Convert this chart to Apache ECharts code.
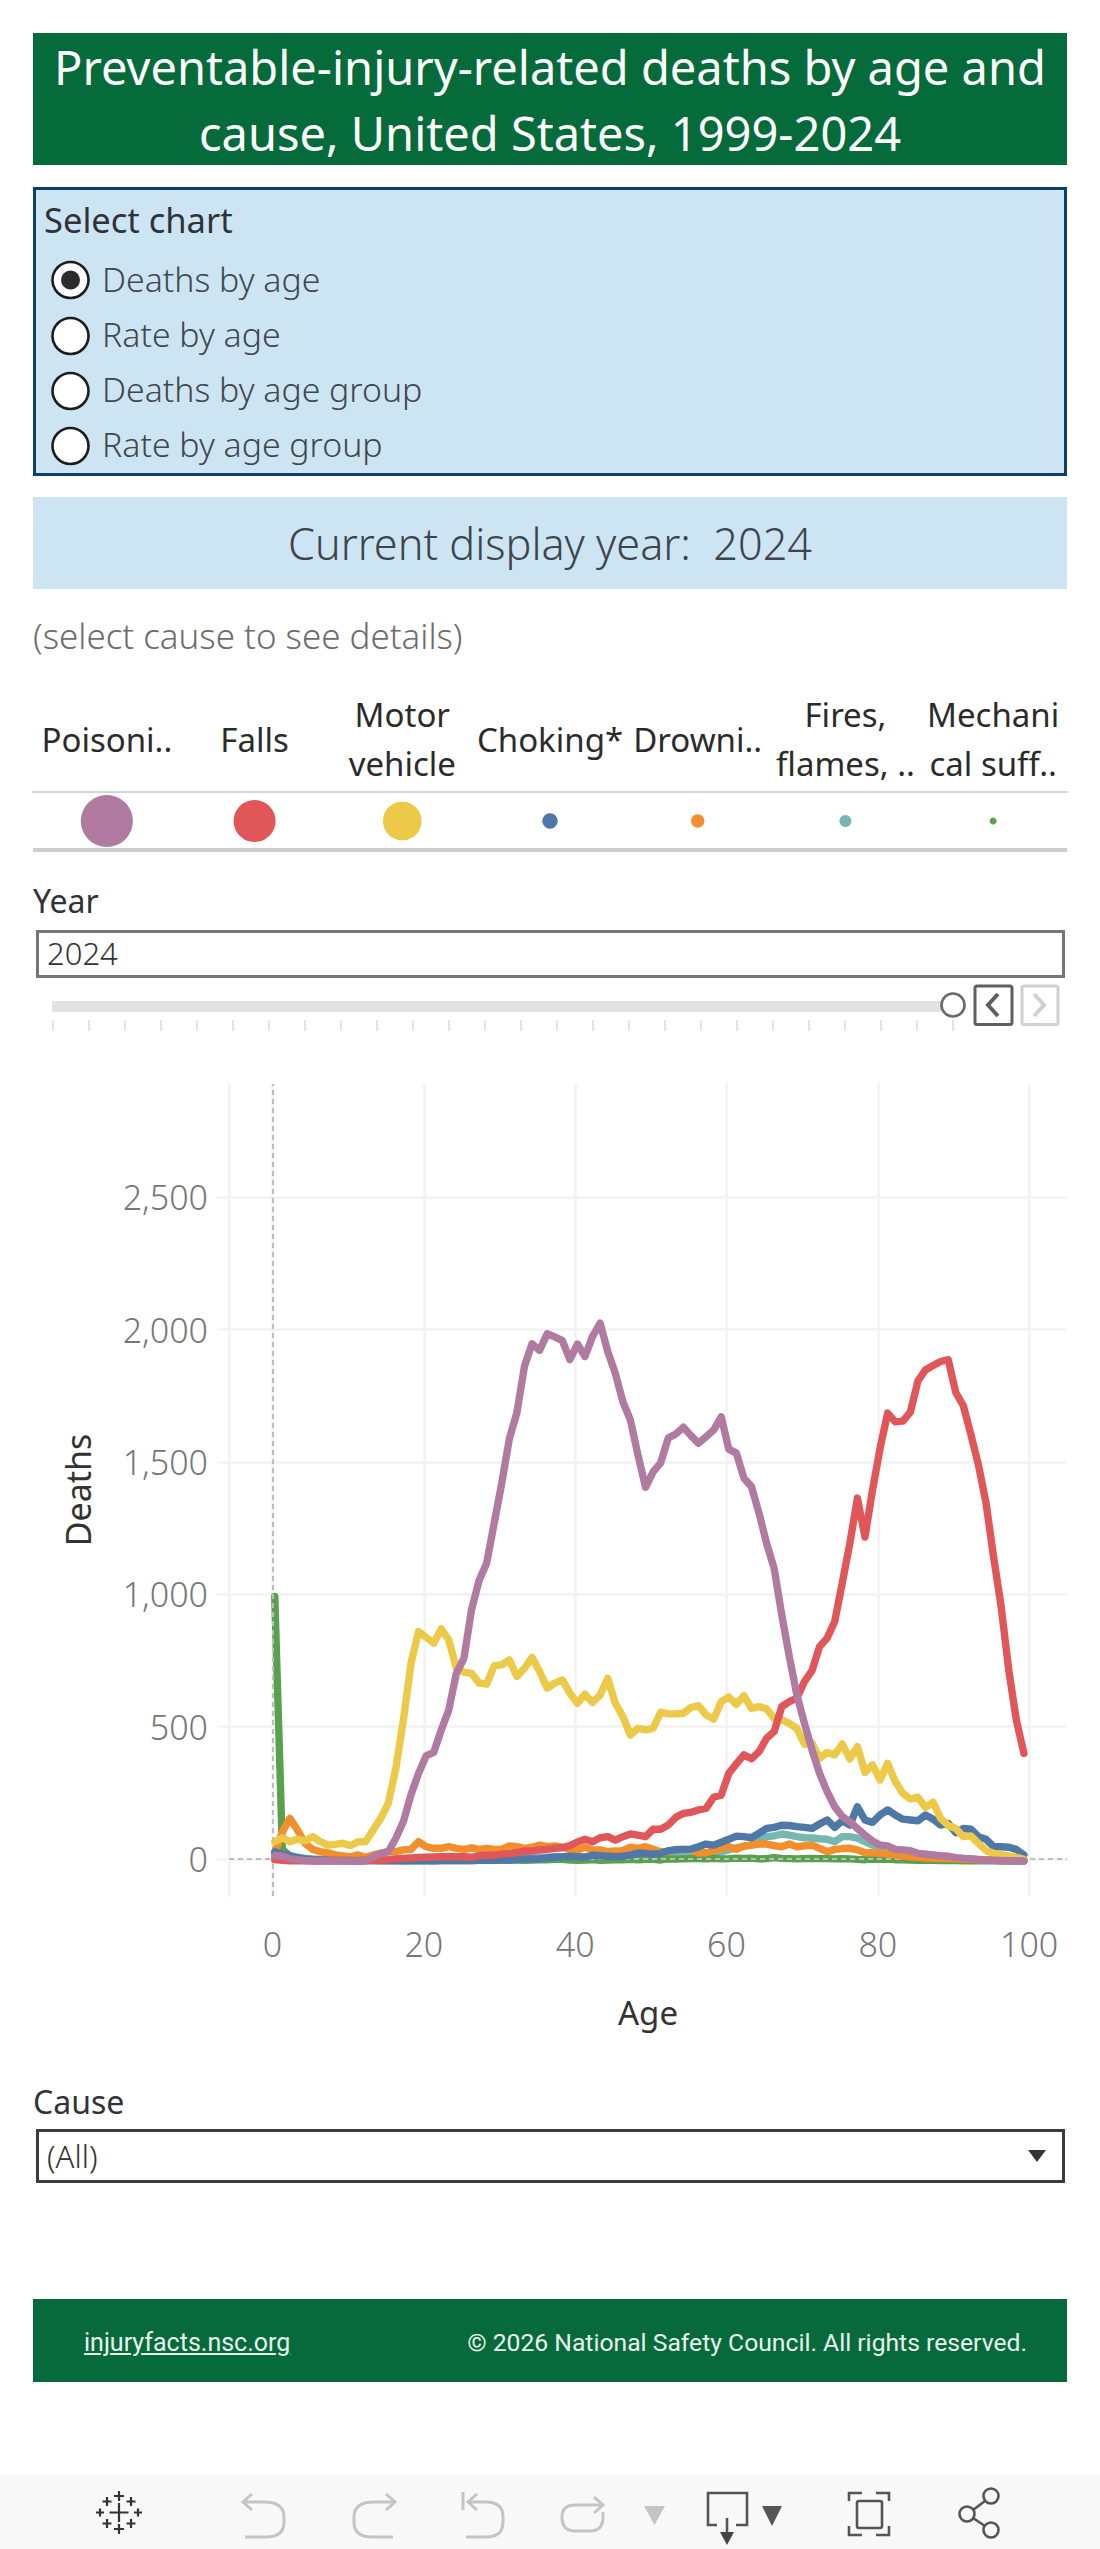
<!DOCTYPE html>
<html lang="en">
<head>
<meta charset="utf-8">
<title>Preventable-injury-related deaths by age and cause</title>
<script src="https://cdn.jsdelivr.net/npm/echarts@6/dist/echarts.min.js"></script>
<style>
  html, body { margin: 0; padding: 0; background: #fff; }
  body { position: relative; width: 1100px; height: 2549px; overflow: hidden; font-family: "Noto Sans", sans-serif; color: #2f3338; }
  #board { position: absolute; left: 0; top: 0; width: 1100px; height: 2549px; }
  .box, .txt { position: absolute; box-sizing: border-box; }
  .txt { white-space: pre; line-height: 1; }
  #chrome { position: absolute; left: 0; top: 0; }
</style>
</head>
<body>

<div class="box" style="left:33px;top:33px;width:1034px;height:132px;background:#056b3a"></div>
<div class="txt" style="left:33px;width:1034px;top:44px;text-align:center;color:#fff;font-size:47px">Preventable-injury-related deaths by age and</div>
<div class="txt" style="left:33px;width:1034px;top:110px;text-align:center;color:#fff;font-size:47px">cause, United States, 1999-2024</div>

<div class="box" style="left:33px;top:187px;width:1034px;height:289px;background:#cde5f2;border:3px solid #0e3f66"></div>
<div class="txt" style="left:44px;top:203px;font-size:34.5px;font-weight:400">Select chart</div>
<div class="txt" style="left:102px;top:263px;font-size:33.8px;font-weight:300;color:#3f474f">Deaths by age</div>
<div class="txt" style="left:102px;top:318px;font-size:33.8px;font-weight:300;color:#3f474f">Rate by age</div>
<div class="txt" style="left:102px;top:373px;font-size:33.8px;font-weight:300;color:#3f474f">Deaths by age group</div>
<div class="txt" style="left:102px;top:428px;font-size:33.8px;font-weight:300;color:#3f474f">Rate by age group</div>

<div class="box" style="left:33px;top:497px;width:1034px;height:92px;background:#cde5f2"></div>
<div class="txt" style="left:33px;width:1034px;top:522px;text-align:center;font-size:43.2px;font-weight:300;color:#3c444c">Current display year:  2024</div>

<div class="txt" style="left:33px;top:619px;font-size:34.9px;font-weight:300;color:#6d6d6d">(select cause to see details)</div>

<div class="box" style="left:33px;top:848px;width:1034px;height:4px;background:#cdcdcd"></div>

<div class="txt" style="left:33px;top:885px;font-size:32px">Year</div>
<div class="box" style="left:36px;top:930px;width:1029px;height:48px;background:#fff;border:3px solid #767676"></div>
<div class="txt" style="left:47px;top:938px;font-size:31px;font-weight:300;color:#333">2024</div>
<div class="box" style="left:52px;top:1001px;width:890px;height:11px;background:#e2e2e2"></div>

<div class="txt" style="left:33px;top:2086px;font-size:32px">Cause</div>
<div class="box" style="left:36px;top:2129px;width:1029px;height:54px;background:#fff;border:3px solid #3c3c3c"></div>
<div class="txt" style="left:47px;top:2141px;font-size:31px;font-weight:300;color:#333">(All)</div>

<div class="box" style="left:33px;top:2299px;width:1034px;height:83px;background:#066a3c"></div>
<div class="txt" style="left:84px;top:2330px;font-family:Roboto;font-size:25px;color:#e9f3ee;text-decoration:underline">injuryfacts.nsc.org</div>
<div class="txt" style="right:73px;top:2331px;font-family:Roboto;font-size:24.7px;color:#e9f3ee">© 2026 National Safety Council. All rights reserved.</div>

<div class="box" style="left:0;top:2475px;width:1100px;height:74px;background:#f8f8f8"></div>

<svg id="chrome" width="1100" height="2549" viewBox="0 0 1100 2549" xmlns="http://www.w3.org/2000/svg" fill="none">
  <!-- radio buttons -->
  <g stroke="#1c1c1c" stroke-width="2.6" fill="#fff">
    <circle cx="70.5" cy="280" r="18"/><circle cx="70.5" cy="336" r="18"/>
    <circle cx="70.5" cy="391" r="18"/><circle cx="70.5" cy="446" r="18"/>
  </g>
  <circle cx="70.5" cy="280" r="9.5" fill="#2c2c2c"/>
  <!-- year slider controls -->
  <g id="sliderTicks" stroke="#dcdcdc" stroke-width="1.6"></g>
  <circle cx="953" cy="1005" r="11.5" fill="#fff" stroke="#6a6a6a" stroke-width="2.6"/>
  <rect x="975" y="986" width="37" height="38.5" rx="2" fill="#fff" stroke="#5f5f5f" stroke-width="3"/>
  <path d="M998 994 L988 1005 L998 1016" stroke="#5f5f5f" stroke-width="4"/>
  <rect x="1022" y="986" width="36" height="38.5" rx="2" fill="#fff" stroke="#d0d0d0" stroke-width="3"/>
  <path d="M1034 994 L1044 1005 L1034 1016" stroke="#d0d0d0" stroke-width="4"/>
  <!-- drop-down arrow -->
  <path d="M1028 2150 H1046 L1037 2162 Z" fill="#333"/>
  <!-- toolbar icons -->
  <g stroke="#333" stroke-width="2.2">
    <path d="M119 2491 V2501 M114 2496 H124 M119 2524 V2534 M114 2529 H124 M119 2503 V2522 M109.5 2512.5 H128.5 M96 2512.5 H104 M100 2508.5 V2516.5 M134 2512.5 H142 M138 2508.5 V2516.5 M107 2497 V2506 M102.5 2501.5 H111.5 M131 2497 V2506 M126.5 2501.5 H135.5 M107 2519 V2528 M102.5 2523.5 H111.5 M131 2519 V2528 M126.5 2523.5 H135.5" />
  </g>
  <g stroke="#c4c4c4" stroke-width="3">
    <path d="M244 2502 H264 Q284 2502 284 2517 V2522 Q284 2537 266 2537 H245"/>
    <path d="M252 2494 L243 2502 L252 2510" />
    <path d="M394 2502 H374 Q354 2502 354 2517 V2522 Q354 2537 372 2537 H393"/>
    <path d="M386 2494 L395 2502 L386 2510" />
    <path d="M463 2492 V2510 M470 2502 H486 Q503 2502 503 2517 V2522 Q503 2537 486 2537 H466"/>
    <path d="M477 2494 L468 2502 L477 2510" />
    <path d="M601 2505 H575 Q562 2505 562 2517 Q562 2531 575 2531 H590 Q603 2531 603 2517 V2512"/>
    <path d="M594 2497 L603 2505 L594 2513"/>
  </g>
  <path d="M644 2506 H665 L654.5 2525 Z" fill="#c4c4c4"/>
  <g stroke="#555" stroke-width="2.6">
    <path d="M717 2525 H708 V2493 H747 V2525 H736"/>
    <path d="M727 2518 V2532"/>
  </g>
  <path d="M720 2532 H734 L727 2545 Z" fill="#444"/>
  <path d="M762 2506 H782 L772 2526 Z" fill="#555"/>
  <g stroke="#555" stroke-width="2.6">
    <path d="M849 2501 V2493 H862 M889 2501 V2493 H876 M849 2526 V2535 H862 M889 2526 V2535 H876"/>
    <rect x="857" y="2501" width="25" height="27" rx="2"/>
    <circle cx="991" cy="2496" r="7.5" /><circle cx="967" cy="2514" r="7.5" /><circle cx="991" cy="2530" r="7.5" />
    <path d="M985 2501 L973 2510 M973 2518 L985 2526"/>
  </g>
</svg>

<div id="board"></div>

<script>
// Cause headers and their estimated all-ages totals for the selected year
const causeLabels = ['Poisoni..', 'Falls', 'Motor\nvehicle', 'Choking*', 'Drowni..', 'Fires,\nflames, ..', 'Mechani\ncal suff..'];
const causeTotals = [60000, 39100, 33100, 5260, 3980, 3200, 1090];
const causeColors = ['#b07aa1', '#e15759', '#edc948', '#4e79a7', '#f28e2b', '#76b7b2', '#59a14f'];

// Axis ticks
const xTicks = [0, 20, 40, 60, 80, 100];
const yTicks = [0, 500, 1000, 1500, 2000, 2500];
const sliderYears = 26;

// Single years of age, 0 through 99
const ages = Array.from({ length: 100 }, (_, i) => i);

// Deaths by single year of age for each cause, 2024
const poisoning = [20,19,9,5,2,0,0,0,0,0,0,0,1,16,29,35,86,149,250,331,397,410,495,571,709,766,949,1060,1125,1277,1428,1595,1694,1869,1954,1929,1992,1980,1966,1894,1953,1906,1982,2032,1925,1843,1735,1666,1534,1412,1470,1504,1598,1613,1639,1607,1578,1603,1628,1678,1556,1541,1447,1414,1314,1200,1105,930,772,627,520,420,331,262,205,168,149,123,98,76,60,57,44,42,39,29,26,23,20,18,13,10,8,5,4,3,2,1,1,0];
const falls = [5,3,1,1,1,1,1,1,1,1,1,1,2,3,4,5,8,10,12,13,14,15,16,17,16,16,14,20,22,22,26,28,32,38,38,42,44,48,50,58,72,82,73,88,92,79,92,102,98,92,120,120,136,165,180,184,193,199,241,249,331,367,401,386,413,464,489,583,602,615,678,719,810,842,905,1050,1200,1371,1224,1402,1560,1692,1659,1662,1696,1814,1855,1872,1887,1894,1770,1720,1611,1496,1352,1149,960,722,533,407];
const motorVehicle = [73,88,73,82,76,92,73,60,63,67,58,73,73,117,161,218,350,533,747,867,845,823,877,835,728,713,709,672,668,738,741,760,697,728,769,716,653,672,684,634,596,630,599,627,690,596,546,476,501,495,501,562,556,556,558,580,587,552,536,602,619,592,624,577,583,575,539,533,520,501,441,445,388,410,401,442,386,432,335,363,306,369,300,256,234,241,202,222,161,134,123,92,95,67,39,29,24,19,14,6];
const choking = [35,25,20,14,8,5,4,3,2,2,2,1,2,2,1,1,1,2,1,1,2,1,2,3,2,2,2,3,3,3,5,3,6,8,8,9,12,14,16,18,16,14,22,20,18,16,18,22,30,29,26,29,39,42,44,45,54,64,60,71,82,94,92,88,105,123,127,135,134,130,127,123,140,155,127,152,136,205,155,146,174,193,174,158,155,152,174,158,136,142,107,123,120,92,82,54,54,52,44,23];
const drowning = [30,110,161,117,67,44,35,31,23,19,16,23,14,23,29,35,35,42,44,73,54,48,48,54,48,44,50,44,48,44,44,57,54,48,52,60,54,57,52,44,42,52,42,42,35,38,39,52,48,54,44,35,35,44,44,42,31,31,39,48,54,44,57,60,64,64,58,54,64,54,57,60,48,35,44,47,48,42,31,31,29,26,23,19,16,14,11,10,9,9,8,6,6,5,5,4,4,3,2,1];
const fires = [15,18,16,12,10,8,6,6,5,4,4,4,4,3,3,4,4,5,5,6,6,6,8,8,8,8,8,10,10,10,10,12,12,12,12,14,14,16,14,16,14,16,14,16,16,18,20,22,22,18,14,15,20,22,25,22,28,30,32,34,42,50,55,60,75,92,95,102,98,92,88,87,84,82,73,92,92,86,73,60,54,54,42,35,30,25,25,20,15,14,12,10,8,6,4,3,3,2,2,1];
const mechanical = [999,45,18,10,6,4,3,2,2,2,2,1,2,2,2,2,2,1,2,2,2,1,2,3,2,2,2,3,3,4,3,4,4,3,4,5,5,6,6,4,3,4,5,3,4,5,5,6,5,6,6,4,8,7,8,9,9,8,10,8,9,11,10,11,8,9,13,10,9,8,9,10,9,9,8,9,8,6,5,7,6,7,5,5,4,3,3,3,2,2,2,1,1,1,1,1,0,0,0,0];

// Drawn bottom to top
const lineLayers = [
  { name: 'Fires, flames, smoke', values: fires, color: causeColors[5] },
  { name: 'Mechanical suffocation', values: mechanical, color: causeColors[6] },
  { name: 'Drowning', values: drowning, color: causeColors[4] },
  { name: 'Choking', values: choking, color: causeColors[3] },
  { name: 'Motor vehicle', values: motorVehicle, color: causeColors[2] },
  { name: 'Falls', values: falls, color: causeColors[1] },
  { name: 'Poisoning', values: poisoning, color: causeColors[0] }
];

// Year slider tick marks
const tickGroup = document.getElementById('sliderTicks');
for (let i = 0; i < sliderYears; i++) {
  const l = document.createElementNS('http://www.w3.org/2000/svg', 'line');
  const x = 53 + i * 36;
  l.setAttribute('x1', x); l.setAttribute('x2', x);
  l.setAttribute('y1', 1020); l.setAttribute('y2', 1031);
  tickGroup.appendChild(l);
}

const FONT = '"Noto Sans", sans-serif';
const GRIDLINE = '#f2f2f2';
const bubbleRadius = t => 0.10614 * Math.sqrt(t);

const chart = echarts.init(document.getElementById('board'), null, { renderer: 'svg', width: 1100, height: 2549 });

chart.setOption({
  animation: false,
  backgroundColor: 'transparent',
  grid: [
    { left: 229, top: 1084, width: 838, height: 812 },
    { left: 33, top: 792, width: 1034, height: 58 }
  ],
  xAxis: [
    // Labelled age axis
    {
      type: 'value', gridIndex: 0, min: -5.75, max: 105,
      name: 'Age', nameLocation: 'middle', nameGap: 100,
      nameTextStyle: { fontFamily: FONT, fontSize: 33, color: '#333' },
      axisLine: { show: false },
      axisTick: { show: false, customValues: xTicks },
      axisLabel: { customValues: xTicks, margin: 31, fontFamily: FONT, fontSize: 34, fontWeight: 300, color: '#777' },
      splitLine: { show: true, lineStyle: { color: GRIDLINE, width: 2.5 } }
    },
    // Age scale carrying the lines, nudged so zero values clear the dashed baseline
    { type: 'value', gridIndex: 0, show: false, min: -6.05, max: 104.7 },
    // Cause column headers
    {
      type: 'category', gridIndex: 1, position: 'top', data: causeLabels,
      axisLine: { show: true, onZero: false, lineStyle: { color: '#c6c6c6', width: 1.5 } },
      axisTick: { show: false },
      axisLabel: { interval: 0, margin: 53, lineHeight: 49, verticalAlign: 'middle', fontFamily: FONT, fontSize: 33, color: '#2b2b2b', align: 'center' }
    }
  ],
  yAxis: [
    {
      type: 'value', gridIndex: 0, min: -139.8, max: 2927.8,
      name: 'Deaths', nameLocation: 'middle', nameRotate: 90, nameGap: 134,
      nameTextStyle: { fontFamily: FONT, fontSize: 34, color: '#333' },
      axisLine: { show: true, onZero: false, lineStyle: { color: GRIDLINE, width: 2.5 } },
      axisTick: { show: true, length: 12, customValues: yTicks, lineStyle: { color: GRIDLINE, width: 2.5 } },
      axisLabel: { customValues: yTicks, margin: 21, fontFamily: FONT, fontSize: 34, fontWeight: 300, color: '#777',
        formatter: v => v.toLocaleString('en-US') },
      splitLine: { show: true, lineStyle: { color: GRIDLINE, width: 2.5 } }
    },
    { type: 'value', gridIndex: 0, show: false, min: -132.2, max: 2935.4 },
    { type: 'value', gridIndex: 1, show: false, min: 0, max: 1 }
  ],
  series: [
    {
      // Dashed reference lines through zero on both axes
      type: 'line', xAxisIndex: 0, yAxisIndex: 0, data: [], z: 1, silent: true,
      markLine: {
        silent: true, symbol: 'none', animation: false, label: { show: false },
        lineStyle: { color: '#bdbdbd', width: 2, type: [5, 4] },
        data: [{ xAxis: 0 }, { yAxis: 0 }]
      }
    },
    ...lineLayers.map((layer, i) => ({
      name: layer.name, type: 'line', xAxisIndex: 1, yAxisIndex: 1, z: 3 + i,
      showSymbol: false, symbol: 'none', smooth: false, clip: false,
      lineStyle: { color: layer.color, width: 7.4, cap: 'round', join: 'round' },
      data: ages.map((a, k) => [a, layer.values[k]])
    })),
    {
      // Total deaths per cause, one bubble per column
      type: 'scatter', xAxisIndex: 2, yAxisIndex: 2, z: 3,
      data: causeTotals.map((t, i) => ({
        value: [i, 0.5, t],
        symbolSize: 2 * bubbleRadius(t),
        itemStyle: { color: causeColors[i], opacity: 1 }
      }))
    }
  ]
});
</script>
</body>
</html>
